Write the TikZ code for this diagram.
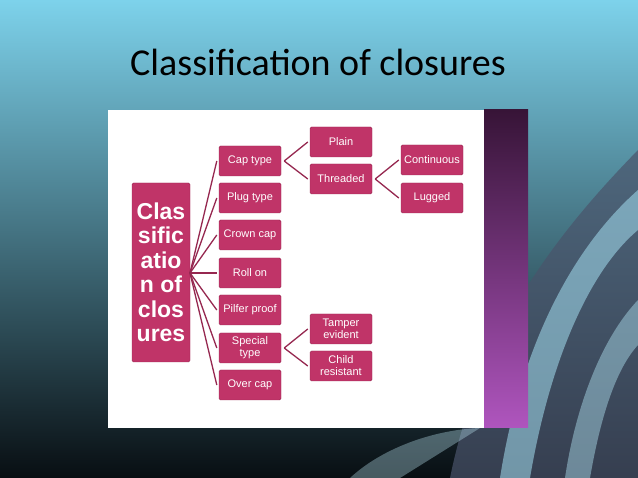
\documentclass[tikz,border=0pt]{standalone}
\usepackage{fontspec}
\setmainfont{Liberation Sans}
\newfontfamily\titlefont{Carlito}
\definecolor{pinkbox}{RGB}{192,52,104}
\definecolor{linec}{RGB}{150,40,80}
\definecolor{bgtop}{RGB}{125,210,235}
\definecolor{bgmid}{RGB}{40,105,135}
\definecolor{bgbot}{RGB}{8,14,18}
\definecolor{purtop}{RGB}{55,20,55}
\definecolor{purbot}{RGB}{175,85,190}
\begin{document}
\begin{tikzpicture}[x=1pt,y=-1pt,
  box/.style={fill=pinkbox,draw=pinkbox!80!black,line width=0.4pt,rounded corners=1.5pt,minimum width=62pt,minimum height=30pt,inner sep=1pt,text=white,font=\fontsize{11}{12}\selectfont,align=center},
  conn/.style={draw=linec,line width=1.3pt}]
\useasboundingbox (0,0) rectangle (638,478);
\shade[top color=bgtop,middle color=bgmid,bottom color=bgbot] (0,0) rectangle (638,478);
% swooshes
\fill[cyan!50!blue!40!black,opacity=0.7] (638,150) .. controls (560,230) and (480,330) .. (450,478) -- (638,478) -- cycle;
\fill[bgtop!70!white,opacity=0.55] (638,190) .. controls (570,250) and (520,350) .. (500,478) -- (530,478) .. controls (550,360) and (590,270) .. (638,230) -- cycle;
\fill[bgtop!60!white,opacity=0.45] (638,300) .. controls (600,340) and (575,410) .. (565,478) -- (590,478) .. controls (600,420) and (615,370) .. (638,345) -- cycle;
\fill[bgtop!50!white,opacity=0.35] (350,478) .. controls (380,450) and (430,430) .. (480,428) -- (400,478) -- cycle;
\node[font=\titlefont\fontsize{38}{40}\selectfont,text=black] (title) at (318,62) {Classification of closures};
\fill[white] (108,110) rectangle (484,428);
\shade[top color=purtop,bottom color=purbot] (484,110) rectangle (528,428);
\node[box,minimum width=58pt,minimum height=179pt,font=\bfseries\fontsize{23}{24.5}\selectfont] (root) at (161,272.5) {Clas\\sific\\atio\\n of\\clos\\ures};
\foreach \n/\t/\y in {cap/Cap type/161,plug/Plug type/198,crown/Crown cap/235,roll/Roll on/273,pilfer/Pilfer proof/310,special/Special\\type/348,over/Over cap/385}
  \node[box] (\n) at (250,\y) {\t};
\foreach \n/\t/\y in {plain/Plain/142,thr/Threaded/179,tamper/Tamper\\evident/329,child/Child\\resistant/366}
  \node[box] (\n) at (341,\y) {\t};
\node[box] (cont) at (432,160) {Continuous};
\node[box] (lug) at (432,198) {Lugged};
\coordinate (hub) at (190,273);
\foreach \n in {cap,plug,crown,roll,pilfer,special,over}
  \draw[conn] (hub) -- ([xshift=-2pt]\n.west);
\coordinate (c1) at ([xshift=3pt]cap.east);
\draw[conn] (c1) -- ([xshift=-2pt]plain.west);
\draw[conn] (c1) -- ([xshift=-2pt]thr.west);
\coordinate (c2) at ([xshift=3pt]thr.east);
\draw[conn] (c2) -- ([xshift=-2pt]cont.west);
\draw[conn] (c2) -- ([xshift=-2pt]lug.west);
\coordinate (c3) at ([xshift=3pt]special.east);
\draw[conn] (c3) -- ([xshift=-2pt]tamper.west);
\draw[conn] (c3) -- ([xshift=-2pt]child.west);
\end{tikzpicture}
\end{document}
